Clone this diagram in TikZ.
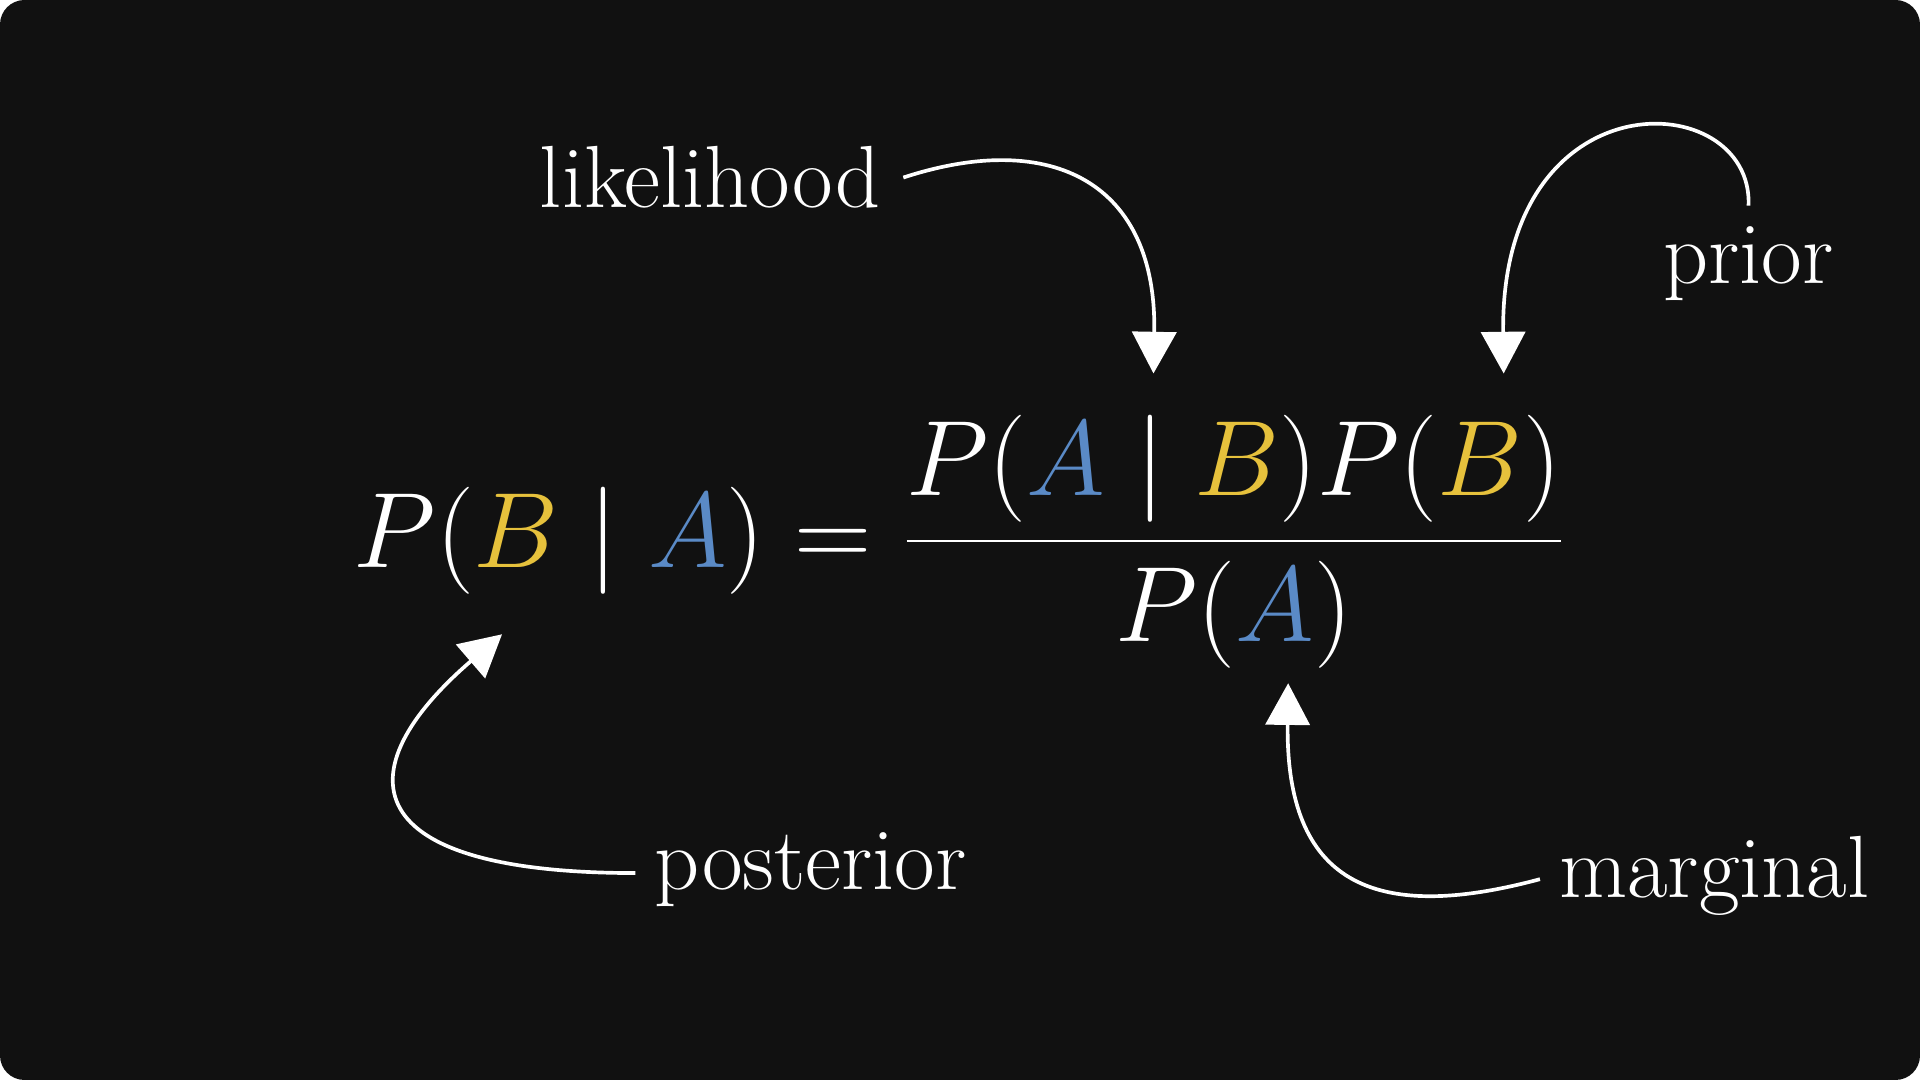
\documentclass[tikz,border=0pt]{standalone}
\usetikzlibrary{arrows.meta}
\definecolor{bg}{HTML}{111111}
\definecolor{cy}{HTML}{E6C13C}
\definecolor{cb}{HTML}{5A8AC6}
\begin{document}
\begin{tikzpicture}[x=0.01cm,y=-0.01cm,
  lbl/.style={text=white,font=\fontsize{20.5}{24}\selectfont,inner sep=0},
  arr/.style={white,line width=0.03cm,-{Triangle[width=0.36cm,length=0.34cm]}}]
\fill[bg,rounded corners=0.2cm] (0,0) rectangle (1568,882);
\useasboundingbox (0,0) rectangle (1568,882);
\node[text=white,font=\fontsize{25}{30}\selectfont,inner sep=0] (eq) at (784,442)
 {$\displaystyle P(\textcolor{cy}{B}\mid\textcolor{cb}{A})=\frac{P(\textcolor{cb}{A}\mid\textcolor{cy}{B})P(\textcolor{cy}{B})}{P(\textcolor{cb}{A})}$};
\node[lbl] (lik) at (580,145) {likelihood};
\node[lbl] (pri) at (1428,215) {prior};
\node[lbl] (pos) at (662,710) {posterior};
\node[lbl] (mar) at (1400,715) {marginal};
\coordinate (t1) at (942,305);
\coordinate (t2) at (1228,305);
\coordinate (t3) at (410,518);
\coordinate (t4) at (1052,558);
\draw[arr] (lik.east)++(18,0) .. controls (860,105) and (945,150) .. (t1);
\draw[arr] (1428,168) .. controls (1432,70) and (1225,60) .. (t2);
\draw[arr] (pos.west)++(-15,3) .. controls (290,713) and (280,630) .. (t3);
\draw[arr] (mar.west)++(-15,3) .. controls (1120,755) and (1050,720) .. (t4);
\end{tikzpicture}
\end{document}
